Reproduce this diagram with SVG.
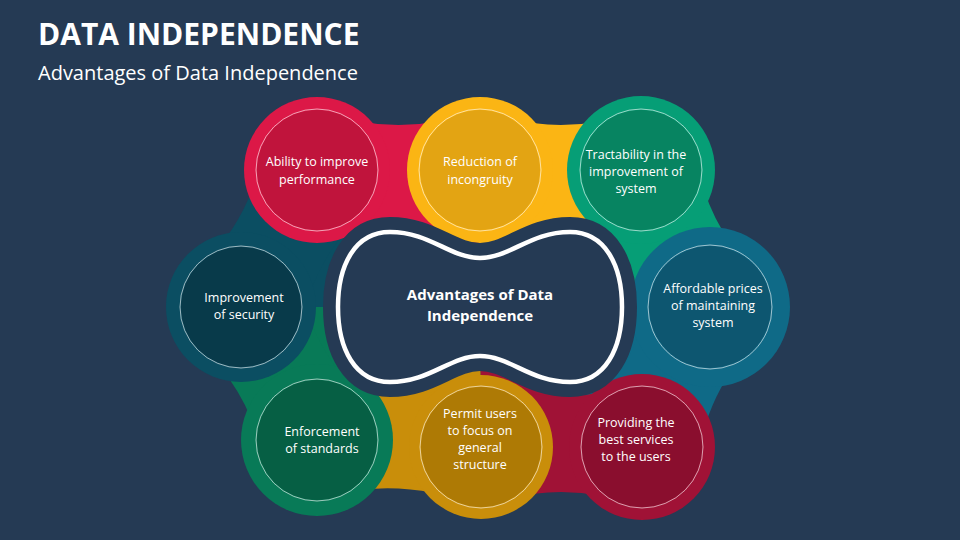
<svg xmlns="http://www.w3.org/2000/svg" width="960" height="540" viewBox="0 0 960 540">
<defs>
<style>
.t{font-family:"Open Sans","Liberation Sans",sans-serif;font-size:12.5px;fill:#fff;text-anchor:middle}
.ring{fill:none;stroke:#fff;stroke-opacity:.6;stroke-width:1}
</style>
<path id="br" d="M0,-60 Q80,-30 160,-60 L160,64 Q80,38 0,64 Z"/>
<path id="pn" d="M390,232 C430,232 450,258 480,258 C510,258 530,232 570,232 C605,232 622,265 622,307 C622,349 605,382 570,382 C530,382 510,356 480,356 C450,356 430,382 390,382 C355,382 338,349 338,307 C338,265 355,232 390,232 Z"/>
</defs>
<rect width="960" height="540" fill="#253a54"/>
<text x="38" y="45" font-family="Open Sans,Liberation Sans,sans-serif" font-weight="bold" font-size="30" fill="#fff">DATA INDEPENDENCE</text>
<text x="38" y="80" font-family="Open Sans,Liberation Sans,sans-serif" font-size="20" fill="#fff">Advantages of Data Independence</text>
<g id="connectors">
<polygon points="317,170 480,170 480,307" fill="#dc1847"/>
<polygon points="480,170 641,170 480,307" fill="#fbb514"/>
<polygon points="641,170 710,307 480,307" fill="#069e76"/>
<polygon points="710,307 642,447 480,307" fill="#0f6a87"/>
<polygon points="642,447 481,447 480,307" fill="#a01236"/>
<polygon points="481,447 317,440 480,307" fill="#c98e0a"/>
<polygon points="317,440 241,307 480,307" fill="#087a57"/>
<polygon points="241,307 317,170 480,307" fill="#0b4e62"/>
<use href="#br" fill="#dc1847" transform="translate(317,170) rotate(0) scale(1.02,1)"/>
<use href="#br" fill="#fbb514" transform="translate(480,170) rotate(0) scale(1.01,1)"/>
<use href="#br" fill="#069e76" transform="translate(641,170) rotate(63.3) scale(0.96,1)"/>
<use href="#br" fill="#0f6a87" transform="translate(710,307) rotate(115.9) scale(0.97,1)"/>
<use href="#br" fill="#a01236" transform="translate(642,447) rotate(180) scale(1.01,1)"/>
<use href="#br" fill="#c98e0a" transform="translate(481,447) rotate(182.4) scale(1.03,1)"/>
<use href="#br" fill="#087a57" transform="translate(317,440) rotate(240.3) scale(0.96,1)"/>
<use href="#br" fill="#0b4e62" transform="translate(241,307) rotate(-61) scale(0.98,1)"/>
</g>
<g id="n8"><circle cx="241" cy="307" r="75" fill="#0b4e62"/><circle cx="241" cy="307" r="60" fill="#083a4a"/><circle cx="241" cy="307" r="61" class="ring"/>
<text class="t" x="244" y="302">Improvement</text><text class="t" x="244" y="319">of security</text></g>
<g id="n1"><circle cx="317" cy="170" r="73" fill="#dc1847"/><circle cx="317" cy="170" r="60" fill="#c0143c"/><circle cx="317" cy="170" r="61" class="ring"/>
<text class="t" x="317" y="166">Ability to improve</text><text class="t" x="317" y="184">performance</text></g>
<g id="n2"><circle cx="480" cy="170" r="73" fill="#fbb514"/><circle cx="480" cy="170" r="60" fill="#e3a413"/><circle cx="480" cy="170" r="61" class="ring"/>
<text class="t" x="480" y="166">Reduction of</text><text class="t" x="480" y="184">incongruity</text></g>
<g id="n3"><circle cx="641" cy="170" r="74" fill="#069e76"/><circle cx="641" cy="170" r="60" fill="#078461"/><circle cx="641" cy="170" r="61" class="ring"/>
<text class="t" x="636" y="159">Tractability in the</text><text class="t" x="636" y="176">improvement of</text><text class="t" x="636" y="193">system</text></g>
<g id="n4"><circle cx="710" cy="307" r="80" fill="#0f6a87"/><circle cx="710" cy="307" r="61" fill="#0d5670"/><circle cx="710" cy="307" r="62" class="ring"/>
<text class="t" x="713" y="293">Affordable prices</text><text class="t" x="713" y="310">of maintaining</text><text class="t" x="713" y="327">system</text></g>
<g id="n5"><circle cx="642" cy="447" r="73" fill="#a01236"/><circle cx="642" cy="447" r="60" fill="#8a0e2e"/><circle cx="642" cy="447" r="61" class="ring"/>
<text class="t" x="636" y="427">Providing the</text><text class="t" x="636" y="444">best services</text><text class="t" x="636" y="461">to the users</text></g>
<g id="n6"><circle cx="481" cy="447" r="72" fill="#c98e0a"/><circle cx="481" cy="447" r="60" fill="#ae7a05"/><circle cx="481" cy="447" r="61" class="ring"/>
<text class="t" x="480" y="418">Permit users</text><text class="t" x="480" y="435">to focus on</text><text class="t" x="480" y="452">general</text><text class="t" x="480" y="469">structure</text></g>
<g id="n7"><circle cx="317" cy="440" r="76" fill="#087a57"/><circle cx="317" cy="440" r="60" fill="#065f44"/><circle cx="317" cy="440" r="61" class="ring"/>
<text class="t" x="322" y="436">Enforcement</text><text class="t" x="322" y="453">of standards</text></g>
<g id="center">
<use href="#pn" fill="#253a54" stroke="#253a54" stroke-width="30" stroke-linejoin="round"/>
<use href="#pn" fill="#253a54" stroke="#fff" stroke-width="4.5"/>
<text x="480" y="300" font-family="Open Sans,Liberation Sans,sans-serif" font-weight="bold" font-size="15" fill="#fff" text-anchor="middle">Advantages of Data</text>
<text x="480" y="321" font-family="Open Sans,Liberation Sans,sans-serif" font-weight="bold" font-size="15" fill="#fff" text-anchor="middle">Independence</text>
</g>
</svg>
